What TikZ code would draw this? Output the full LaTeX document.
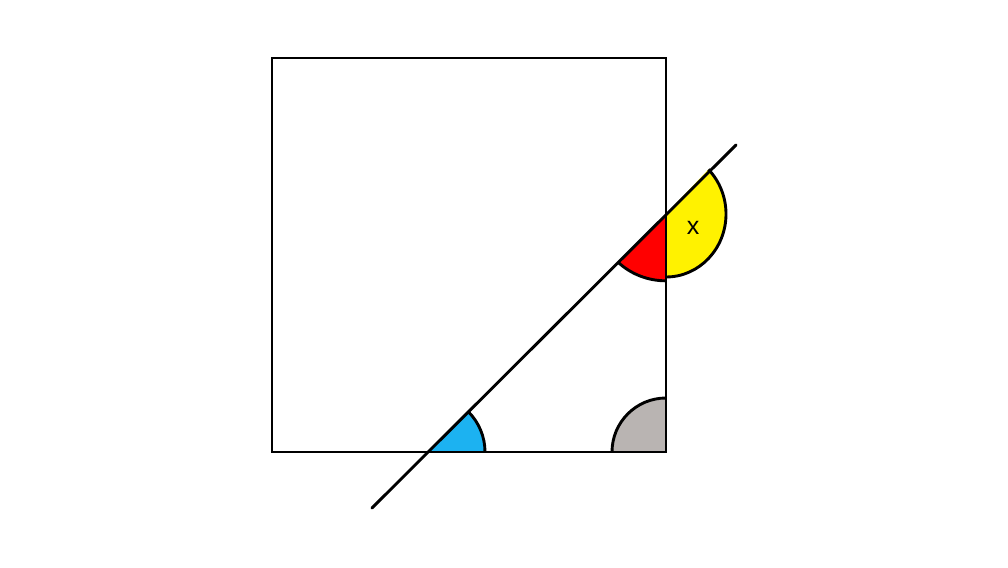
\documentclass[tikz,border=0pt]{standalone}
\usepackage{fontspec}
\setmainfont{Liberation Sans}
\begin{document}
\begin{tikzpicture}[x=1pt,y=-1pt,
  edge/.style={line width=2.9pt, line cap=round, line join=round},
  sector/.style={draw=black, line width=2.9pt, line join=round}]
\useasboundingbox (0,0) rectangle (1008,567);
\coordinate (A) at (272,58);
\coordinate (B) at (666,452);
\coordinate (P) at (428,452);
\coordinate (Q) at (666,214);
\coordinate (L1) at (372,508);
\coordinate (L2) at (736,145);
% sectors
\fill[fill={rgb,255:red,28;green,178;blue,241}] (P) -- ++(57,0) arc[start angle=0,end angle=45,x radius=57,y radius=-57] -- cycle;
\draw[sector] (P) ++(57,0) arc[start angle=0,end angle=45,x radius=57,y radius=-57];
\fill[fill={rgb,255:red,185;green,180;blue,178}] (B) -- ++(0,-54) arc[start angle=90,end angle=180,x radius=54,y radius=-54] -- cycle;
\draw[sector] (B) ++(0,-54) arc[start angle=90,end angle=180,x radius=54,y radius=-54];
\fill[fill=red] (Q) -- ++(225:68 and -68) arc[start angle=225,end angle=270,x radius=68,y radius=-64] -- cycle;
\draw[sector] (Q) ++(225:68 and -68) arc[start angle=225,end angle=270,x radius=68,y radius=-64];
\fill[fill=yellow] (Q) -- ++(0,63) arc[start angle=-90,end angle=45,x radius=60,y radius=-63] -- cycle;
\draw[sector] (Q) ++(0,63) arc[start angle=-90,end angle=45,x radius=60,y radius=-63];
% square and line
\draw[edge, line cap=butt, line join=miter] (A) rectangle (B);
\draw[edge] (L1) -- (L2);
\node[font=\fontsize{25}{27}\selectfont] (lx) at (693,228) {x};
\end{tikzpicture}
\end{document}
